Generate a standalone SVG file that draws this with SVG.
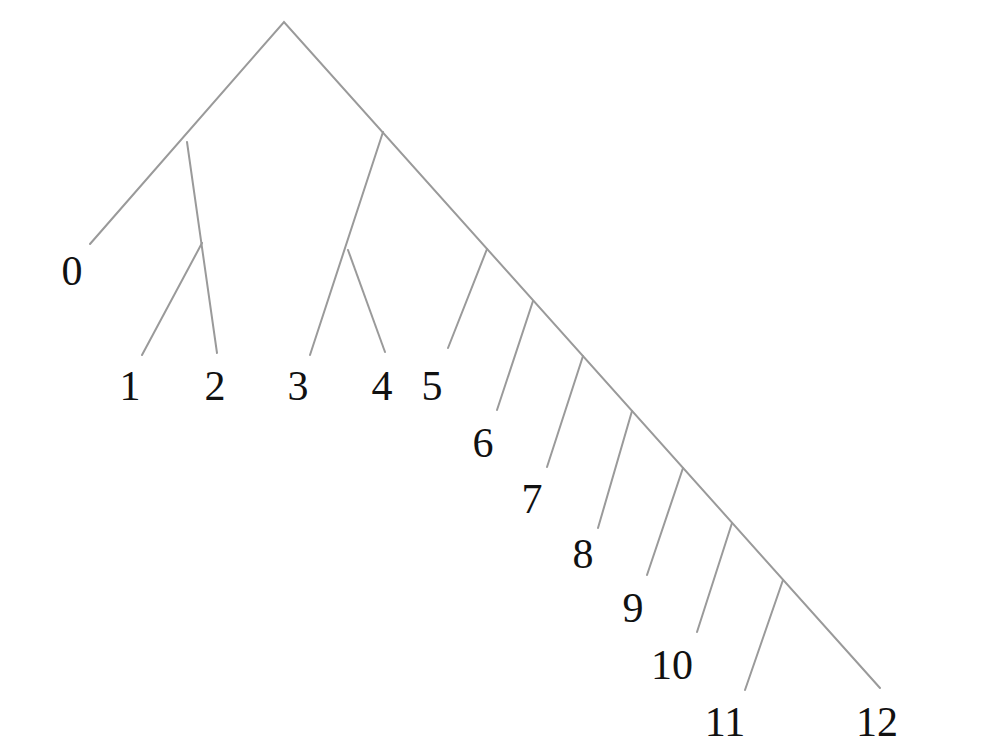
<svg xmlns="http://www.w3.org/2000/svg" width="987" height="755" viewBox="0 0 987 755">
<style>
.e{stroke:#9a9a9a;stroke-width:2;fill:none;stroke-linecap:round}
.t{font-family:"Liberation Serif",serif;font-size:42px;fill:#111;text-anchor:middle}
</style>
<rect width="987" height="755" fill="#fff"/>
<g id="connectors">
<path class="e" d="M90,244 L284,22 L880,688"/>
<path class="e" d="M187,142 L217,353"/>
<path class="e" d="M202,243 L142,355"/>
<path class="e" d="M383,132 L310,355"/>
<path class="e" d="M348,250 L385,352"/>
<path class="e" d="M487,249 L448,348"/>
<path class="e" d="M533,301 L497,410"/>
<path class="e" d="M583,356 L547,467"/>
<path class="e" d="M632,411 L598,528"/>
<path class="e" d="M683,468 L647,575"/>
<path class="e" d="M732,523 L697,632"/>
<path class="e" d="M783,580 L745,690"/>
</g>
<g id="n0"><text class="t" x="72" y="285">0</text></g>
<g id="n1"><text class="t" x="130" y="400">1</text></g>
<g id="n2"><text class="t" x="215" y="400">2</text></g>
<g id="n3"><text class="t" x="298" y="400">3</text></g>
<g id="n4"><text class="t" x="382" y="400">4</text></g>
<g id="n5"><text class="t" x="432" y="400">5</text></g>
<g id="n6"><text class="t" x="483" y="457">6</text></g>
<g id="n7"><text class="t" x="532" y="513">7</text></g>
<g id="n8"><text class="t" x="583" y="568">8</text></g>
<g id="n9"><text class="t" x="633" y="622">9</text></g>
<g id="n10"><text class="t" x="672" y="679">10</text></g>
<g id="n11"><text class="t" x="725" y="736">11</text></g>
<g id="n12"><text class="t" x="877" y="736">12</text></g>
</svg>
